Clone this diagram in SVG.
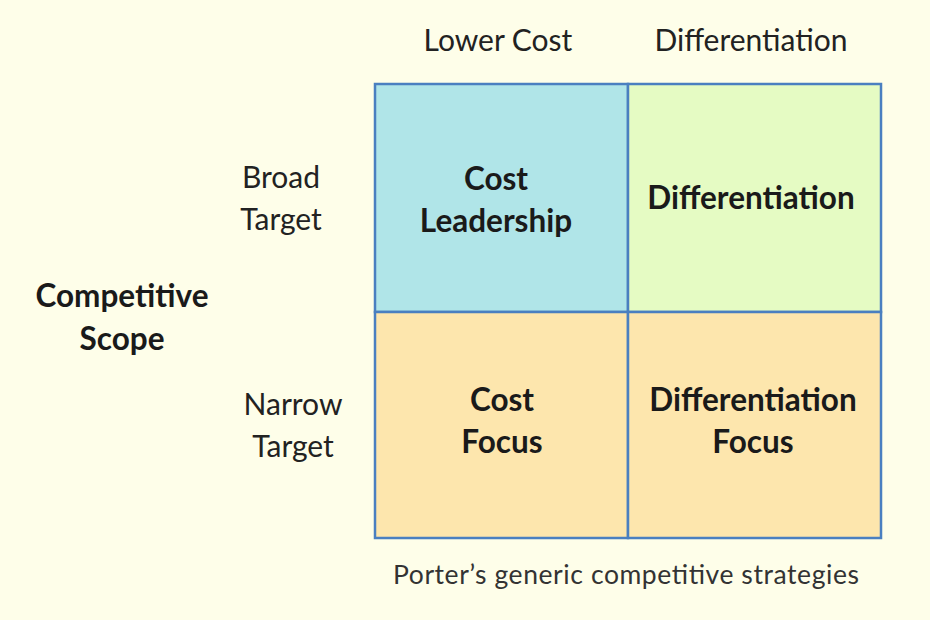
<svg xmlns="http://www.w3.org/2000/svg" width="930" height="620" viewBox="0 0 930 620">
<style>
text{font-family:Lato,"Open Sans","Liberation Sans",sans-serif;fill:#1a1a1a;text-anchor:middle}
.h{font-size:30px;fill:#222}
.b{font-size:31.5px;font-weight:bold}
.c{font-size:26.5px;fill:#333}
.cell{stroke:#4a7fc0;stroke-width:2.5}
</style>
<rect width="930" height="620" fill="#fefee9"/>
<g id="headers">
<text class="h" x="498" y="51">Lower Cost</text>
<text class="h" x="751" y="51">Differentiation</text>
<text class="h" x="281" y="188">Broad</text>
<text class="h" x="281" y="230">Target</text>
<text class="h" x="293" y="415">Narrow</text>
<text class="h" x="293" y="457">Target</text>
<text class="b" x="122" y="307">Competitive</text>
<text class="b" x="122" y="350">Scope</text>
</g>
<g id="cost-leadership">
<rect class="cell" x="375" y="84" width="253" height="228" fill="#b0e5e8"/>
<text class="b" x="496" y="190">Cost</text>
<text class="b" x="496" y="232">Leadership</text>
</g>
<g id="differentiation">
<rect class="cell" x="628" y="84" width="253" height="228" fill="#e5fbc3"/>
<text class="b" x="751" y="209">Differentiation</text>
</g>
<g id="cost-focus">
<rect class="cell" x="375" y="312" width="253" height="226" fill="#fde6ad"/>
<text class="b" x="502" y="411">Cost</text>
<text class="b" x="502" y="453">Focus</text>
</g>
<g id="differentiation-focus">
<rect class="cell" x="628" y="312" width="253" height="226" fill="#fde6ad"/>
<text class="b" x="753" y="411">Differentiation</text>
<text class="b" x="753" y="453">Focus</text>
</g>
<g id="connectors"></g>
<text class="c" x="626" y="584" textLength="466" lengthAdjust="spacing">Porter’s generic competitive strategies</text>
</svg>
